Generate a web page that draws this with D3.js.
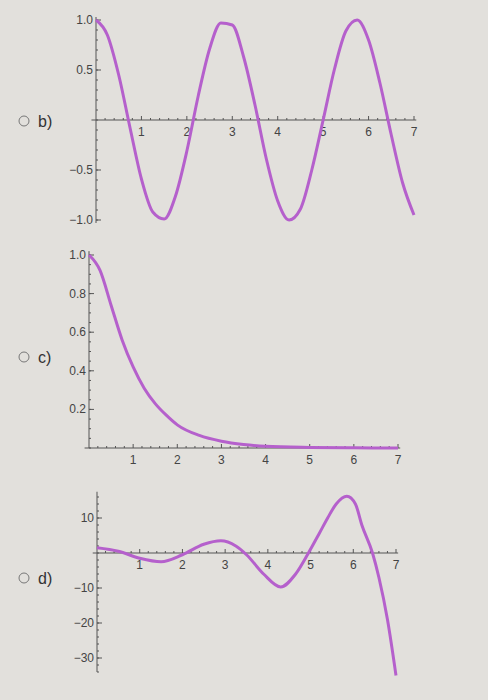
<!DOCTYPE html>
<html><head><meta charset="utf-8">
<script src="https://cdn.jsdelivr.net/npm/d3@7"></script>
<style>body{margin:0;background:#e2e0dc;}svg{display:block}</style></head>
<body><script>
const xsB=[0,.25,.5,.75,1,1.25,1.5,1.75,2,2.25,2.5,2.75,3,3.25,3.5,3.75,4,4.25,4.5,4.75,5,5.25,5.5,5.75,6,6.25,6.5,6.75,7];
const ysB=[1,.85,.45,-.08,-.59,-.92,-.99,-.76,-.31,.24,.71,.97,.95,.63,.15,-.39,-.81,-1,-.89,-.5,0,.51,.89,1,.8,.37,-.15,-.63,-.95];
const xsC=[0,.25,.5,.75,1,1.25,1.5,1.75,2,2.5,3,3.5,4,5,6,7];
const ysC=[1,.92,.74,.56,.42,.31,.23,.17,.12,.065,.035,.018,.009,.003,.001,0];
const xsD=[0,.5,1,1.5,2,2.5,2.9,3.25,3.5,3.9,4.3,4.65,4.95,5.2,5.4,5.6,5.85,6.05,6.2,6.45,6.6,6.8,7];
const ysD=[1.5,.5,-1.5,-2.5,-.5,2.5,3.5,2,-.5,-6,-9.7,-6,0,5.5,10,14,16.2,14,8,0,-7,-19,-35];
const xTicks=[1,2,3,4,5,6,7];
const svg=d3.select("body").append("svg").attr("width",488).attr("height",700);
const panels=[
 {lab:"b)",ly:121,xs:xsB,ys:ysB,x0:96,x7:414,yd:[-1,1],yr:[220,20],ext:[-1.03,1.03],yt:[-1,-.5,.5,1],fmt:d3.format(".1f"),minor:.1},
 {lab:"c)",ly:357,xs:xsC,ys:ysC,x0:89,x7:398,yd:[0,1],yr:[448,255],ext:[0,1.02],yt:[.2,.4,.6,.8,1],fmt:d3.format(".1f"),minor:.05},
 {lab:"d)",ly:578,xs:xsD,ys:ysD,x0:97,x7:396,yd:[-10,10],yr:[588,518],ext:[-34,17.5],yt:[-30,-20,-10,10],fmt:d3.format("d"),minor:2}
];
panels.forEach(p=>{
 const x=d3.scaleLinear().domain([0,7]).range([p.x0,p.x7]);
 const y=d3.scaleLinear().domain(p.yd).range(p.yr);
 const g=svg.append("g").attr("font-family","Liberation Sans, Arial").attr("font-size",12).attr("fill","#444");
 g.append("circle").attr("cx",24).attr("cy",p.ly).attr("r",5).attr("fill","none").attr("stroke","#777").attr("stroke-width",1);
 g.append("text").attr("x",38).attr("y",p.ly+6).attr("font-size",16).attr("fill","#333").text(p.lab);
 const ax="#555";
 g.append("line").attr("x1",x(-0.1)).attr("x2",x(7.05)).attr("y1",y(0)).attr("y2",y(0)).attr("stroke",ax);
 d3.range(0.2,7.01,0.2).forEach(v=>{const maj=Math.abs(v-Math.round(v))<1e-6;
  g.append("line").attr("x1",x(v)).attr("x2",x(v)).attr("y1",y(0)).attr("y2",y(0)-(maj?4:2)).attr("stroke",ax);});
 xTicks.forEach(v=>g.append("text").attr("x",x(v)).attr("y",y(0)+16).attr("text-anchor","middle").text(v));
 g.append("line").attr("x1",x(0)).attr("x2",x(0)).attr("y1",y(p.ext[0])).attr("y2",y(p.ext[1])).attr("stroke",ax);
 d3.range(Math.ceil(p.ext[0]/p.minor)*p.minor,p.ext[1],p.minor).forEach(v=>{
  g.append("line").attr("x1",x(0)).attr("x2",x(0)+2).attr("y1",y(v)).attr("y2",y(v)).attr("stroke",ax);});
 p.yt.forEach(v=>{g.append("line").attr("x1",x(0)).attr("x2",x(0)+5).attr("y1",y(v)).attr("y2",y(v)).attr("stroke",ax);
  g.append("text").attr("x",x(0)-3).attr("y",y(v)+4).attr("text-anchor","end").text(p.fmt(v).replace("-","−"));});
 const pts=p.xs.map((v,i)=>[v,p.ys[i]]);
 g.append("path").attr("d",d3.line().x(d=>x(d[0])).y(d=>y(d[1])).curve(d3.curveMonotoneX)(pts))
  .attr("fill","none").attr("stroke","#b560cc").attr("stroke-width",3);
});
</script></body></html>
